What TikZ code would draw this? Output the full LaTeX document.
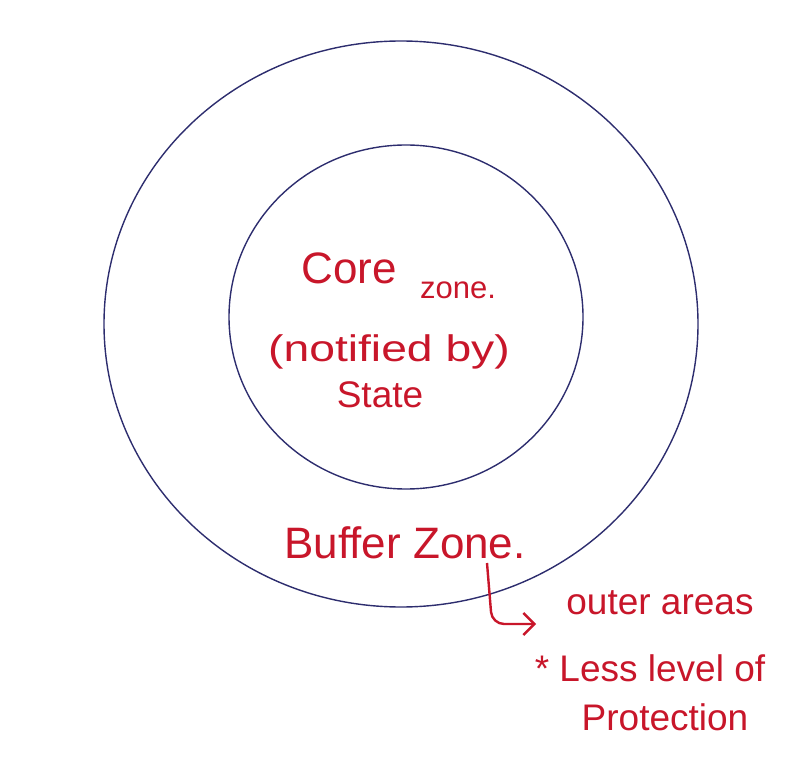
\documentclass[tikz,border=0pt]{standalone}
\usepackage{fontspec}
\setmainfont{Liberation Sans}
\usetikzlibrary{arrows.meta}
\definecolor{ink}{RGB}{200,22,42}
\definecolor{pen}{RGB}{45,45,110}
\tikzset{
  zone/.style={draw=pen, line width=1.4pt},
  lbl/.style={text=ink, inner sep=0pt, anchor=center},
  big/.style={lbl, font=\fontsize{44}{48}\selectfont},
  mid/.style={lbl, font=\fontsize{37}{40}\selectfont},
  small/.style={lbl, font=\fontsize{31}{34}\selectfont},
  pointer/.style={draw=ink, line width=2.4pt, rounded corners=12pt, -{Straight Barb[length=11pt,width=22pt,line width=2.4pt]}}
}
\begin{document}
\begin{tikzpicture}[x=1pt,y=-1pt]
\useasboundingbox (0,0) rectangle (800,775);
\draw[zone] (401,324) ellipse [x radius=297, y radius=283];
\draw[zone] (406,317) ellipse [x radius=177, y radius=172];
\node[big] (core) at (349,268) {Core};
\node[small] (zone) at (458,290) {zone.};
\node[mid, xscale=1.25] (notified) at (389,352) {(notified by)};
\node[mid] (state) at (380,395) {State};
\node[big] (buffer) at (405,543) {Buffer Zone.};
\node[mid] (outer) at (660,603) {outer areas};
\node[mid] (less) at (650,668) {* Less level of};
\node[mid] (prot) at (665,717) {Protection};
\coordinate (p0) at (487,563);
\draw[pointer] (p0) -- (492,624) -- (536,624);
\end{tikzpicture}
\end{document}
